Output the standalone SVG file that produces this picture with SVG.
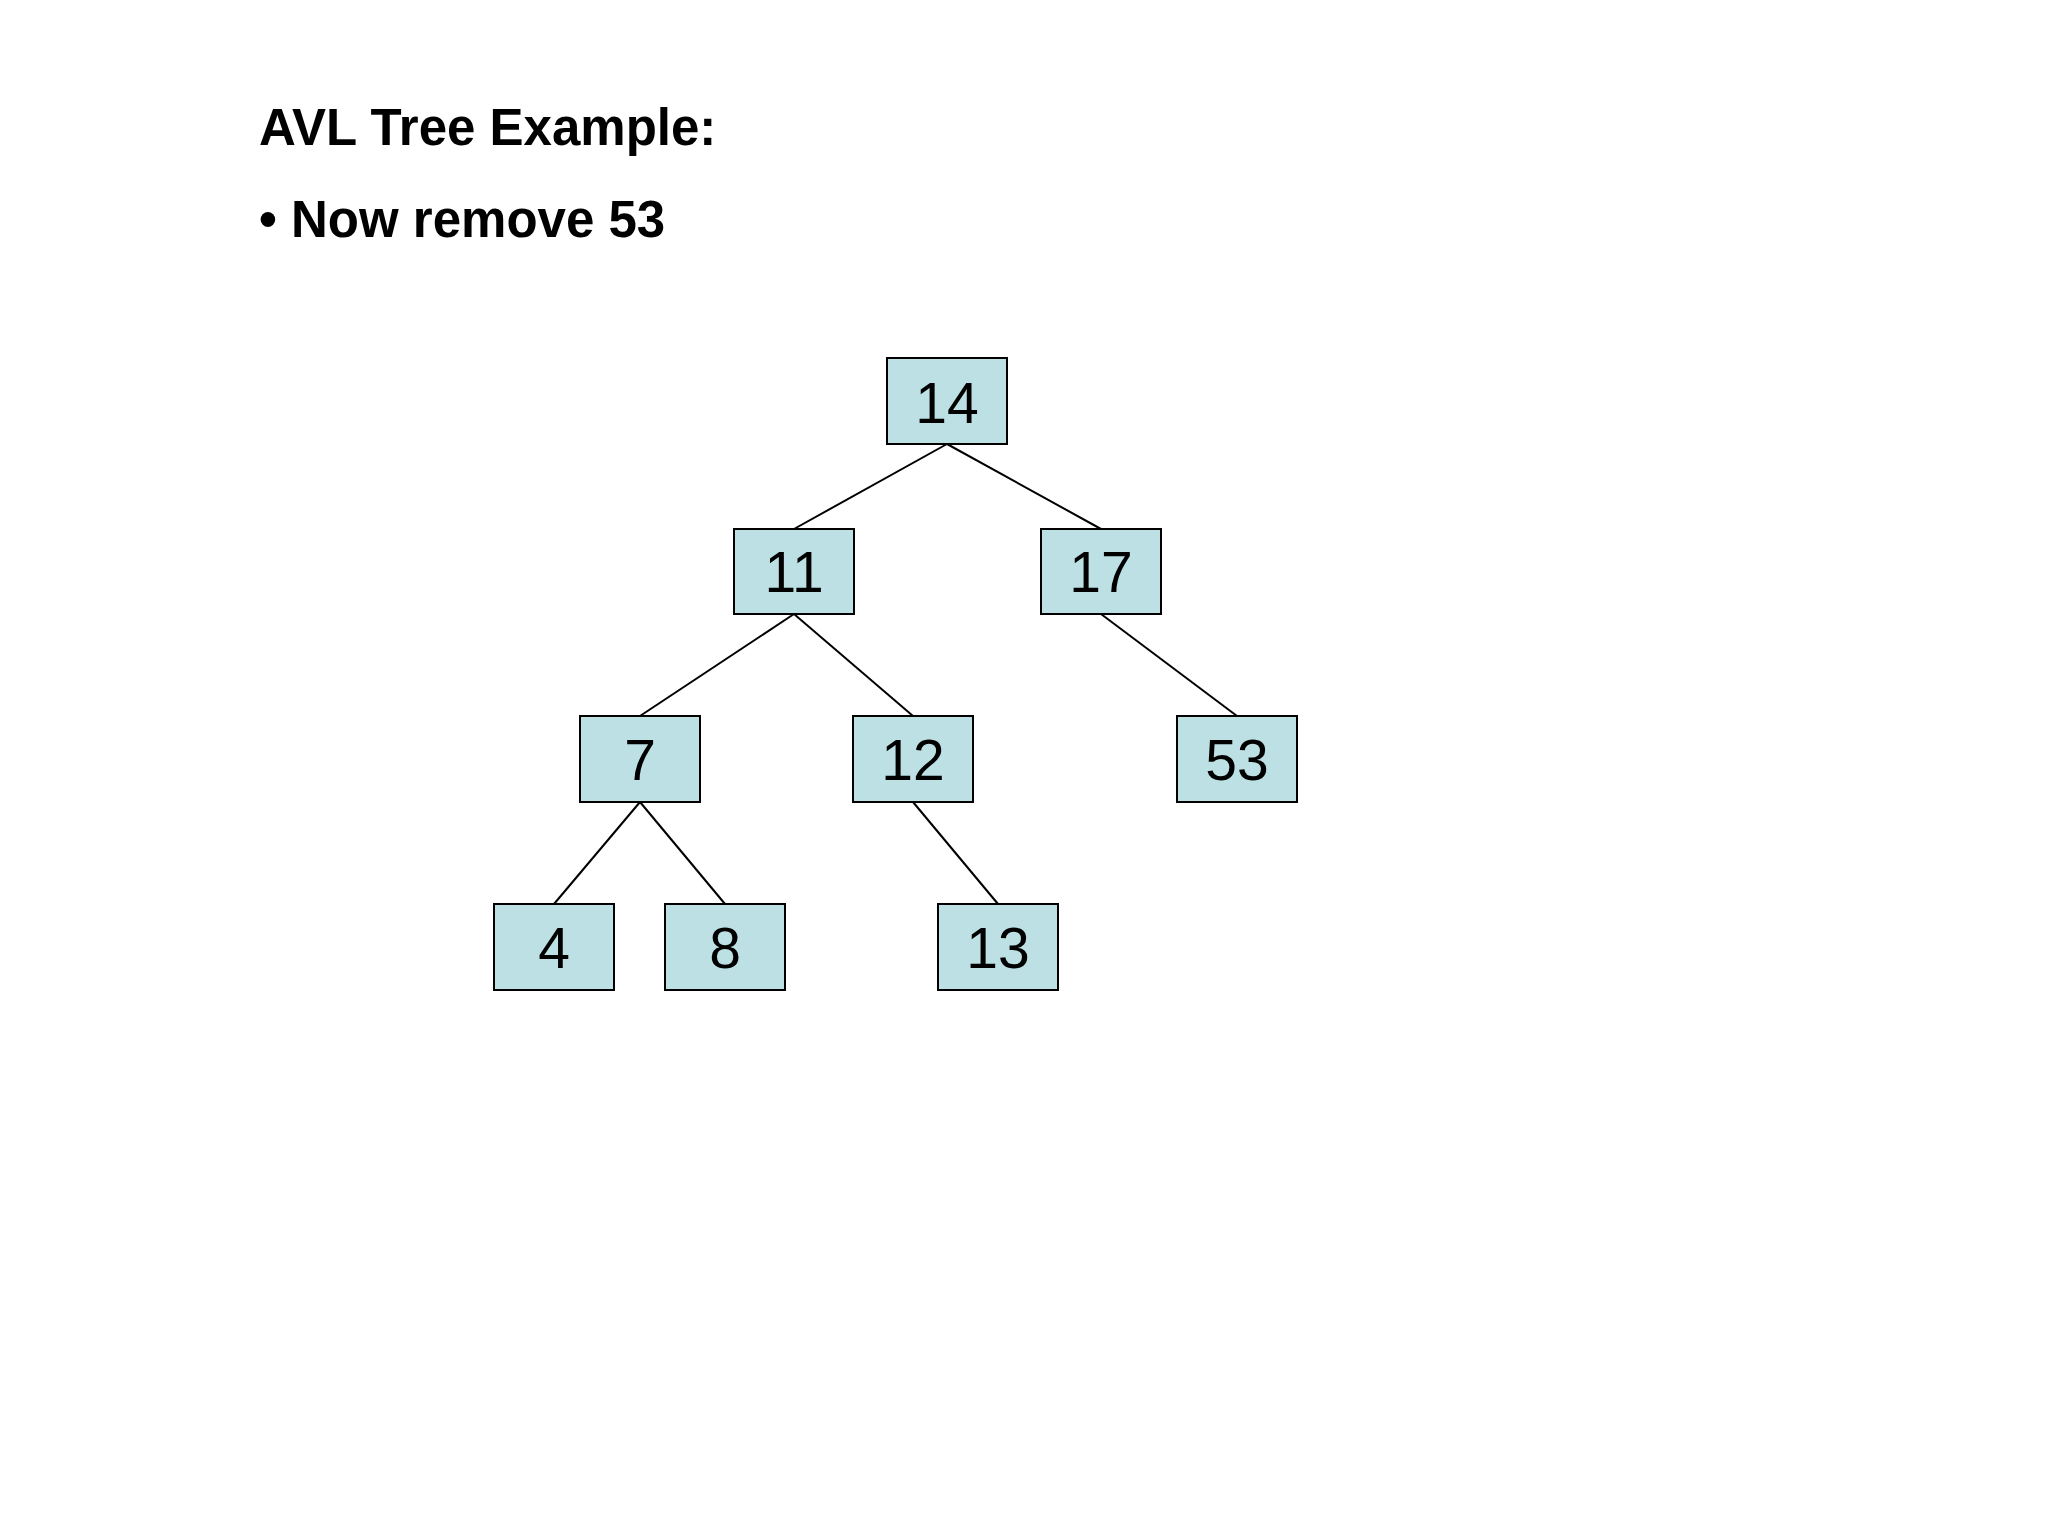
<svg xmlns="http://www.w3.org/2000/svg" width="2048" height="1536" viewBox="0 0 2048 1536">
<style>
.title{font-family:"Liberation Sans",Arial,sans-serif;font-weight:bold;font-size:51px;fill:#000}
.node rect{fill:#BCE0E3;stroke:#000;stroke-width:2}
.node text{font-family:"Liberation Sans",Arial,sans-serif;font-size:57px;fill:#000;text-anchor:middle}
.edges line{stroke:#000;stroke-width:2}
</style>
<rect width="2048" height="1536" fill="#fff"/>
<text class="title" x="259" y="145">AVL Tree Example:</text>
<text class="title" x="259" y="237">• Now remove 53</text>
<g class="edges">
<line x1="947" y1="444" x2="794" y2="529"/>
<line x1="947" y1="444" x2="1101" y2="529"/>
<line x1="794" y1="614" x2="640" y2="716"/>
<line x1="794" y1="614" x2="913" y2="716"/>
<line x1="1101" y1="614" x2="1237" y2="716"/>
<line x1="640" y1="802" x2="554" y2="904"/>
<line x1="640" y1="802" x2="725" y2="904"/>
<line x1="913" y1="802" x2="998" y2="904"/>
</g>
<g id="n14" class="node"><rect x="887" y="358" width="120" height="86"/><text x="947" y="423">14</text></g>
<g id="n11" class="node"><rect x="734" y="529" width="120" height="85"/><text x="794" y="592">11</text></g>
<g id="n17" class="node"><rect x="1041" y="529" width="120" height="85"/><text x="1101" y="592">17</text></g>
<g id="n7" class="node"><rect x="580" y="716" width="120" height="86"/><text x="640" y="780">7</text></g>
<g id="n12" class="node"><rect x="853" y="716" width="120" height="86"/><text x="913" y="780">12</text></g>
<g id="n53" class="node"><rect x="1177" y="716" width="120" height="86"/><text x="1237" y="780">53</text></g>
<g id="n4" class="node"><rect x="494" y="904" width="120" height="86"/><text x="554" y="968">4</text></g>
<g id="n8" class="node"><rect x="665" y="904" width="120" height="86"/><text x="725" y="968">8</text></g>
<g id="n13" class="node"><rect x="938" y="904" width="120" height="86"/><text x="998" y="968">13</text></g>
</svg>
